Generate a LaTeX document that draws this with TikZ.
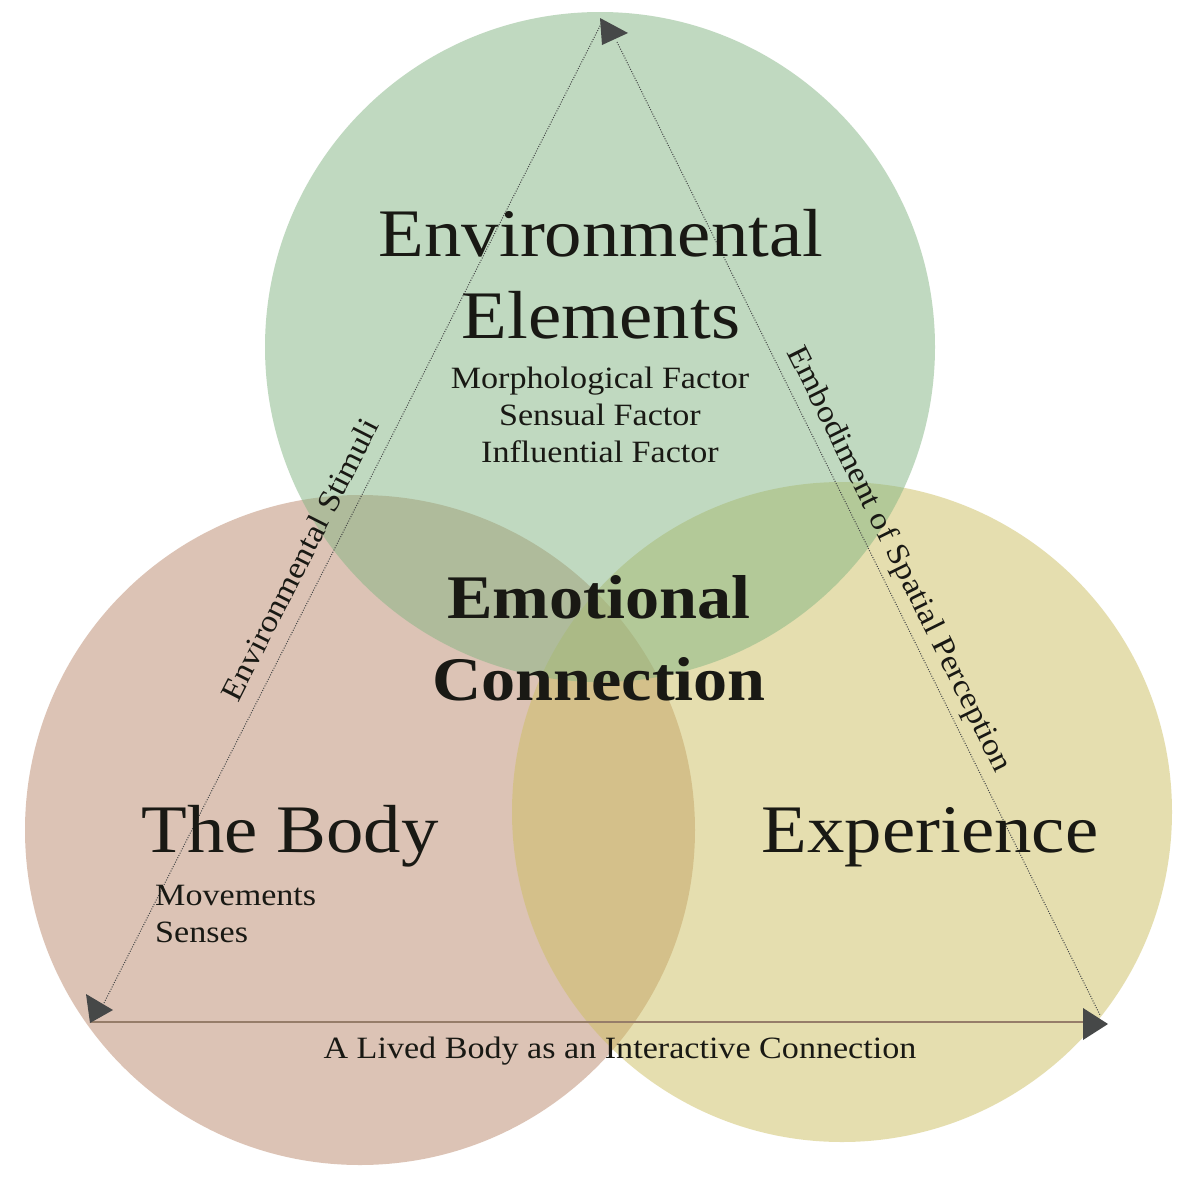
\documentclass[tikz,border=0pt]{standalone}
\usepackage{fontspec}
\setmainfont{Liberation Serif}[FakeStretch=1.1]
\definecolor{gfill}{RGB}{131,181,131}
\definecolor{rfill}{RGB}{187,137,109}
\definecolor{yfill}{RGB}{205,191,97}
\definecolor{txt}{RGB}{25,25,20}
\definecolor{tip}{RGB}{70,72,72}
\definecolor{hline}{RGB}{150,125,105}
\begin{document}
\begin{tikzpicture}[x=1pt,y=-1pt,
  venn/.style={circle, inner sep=0pt, minimum size=#1, fill opacity=0.5, text opacity=1},
  big/.style={text=txt, inner sep=0pt, anchor=base, font=\fontsize{68}{72}\selectfont},
  bold/.style={text=txt, inner sep=0pt, anchor=base, font=\fontsize{62}{66}\selectfont\bfseries},
  small/.style={text=txt, inner sep=0pt, anchor=base, font=\fontsize{31}{37}\selectfont},
  lbl/.style={text=txt, inner sep=0pt, font=\fontsize{31}{34}\selectfont},
  dotline/.style={draw=tip, line width=1pt, dash pattern=on 1pt off 1.5pt},
  tipshape/.style={fill=tip}]
\useasboundingbox (0,0) rectangle (1200,1189);
\fill[white] (0,0) rectangle (1200,1189);
% circles
\node[venn=670pt, fill=rfill] (R) at (360,830) {};
\node[venn=660pt, fill=yfill] (Y) at (842,812) {};
\node[venn=670pt, fill=gfill] (G) at (600,347) {};
% corner coordinates
\coordinate (T) at (602,22);
\coordinate (T2) at (617,42);
\coordinate (BL) at (104,1003);
\coordinate (BLh) at (90,1022);
\coordinate (BR) at (1100,1015);
\coordinate (BRh) at (1084,1022);
% connectors
\draw[dotline] (BL) -- node[pos=0.44, sloped, above=15pt, lbl] (es) {Environmental Stimuli} (T);
\draw[dotline] (T2) -- node[pos=0.542, sloped, above=7pt, lbl] (esp) {Embodiment of Spatial Perception} (BR);
\draw[draw=hline, line width=1.4pt] (BLh) -- node[below=14pt, xshift=33pt, lbl] (lived) {A Lived Body as an Interactive Connection} (BRh);
% arrowheads
\fill[tipshape] (600,18) -- (602,45) -- (628,33) -- cycle;
\fill[tipshape] (86,994) -- (90,1023) -- (113,1010) -- cycle;
\fill[tipshape] (1083,1008) -- (1083,1040) -- (1108,1024) -- cycle;
% texts
\node[big] (env1) at (601,256) {Environmental};
\node[big] (env2) at (601,338) {Elements};
\node[small] (fac1) at (600,388) {Morphological Factor};
\node[small] (fac2) at (600,425) {Sensual Factor};
\node[small] (fac3) at (600,462) {Influential Factor};
\node[bold] (emo1) at (599,618) {Emotional};
\node[bold] (emo2) at (599,700) {Connection};
\node[big] (body) at (290,852) {The Body};
\node[small, anchor=base west] (mov) at (155,905) {Movements};
\node[small, anchor=base west] (sen) at (155,942) {Senses};
\node[big] (exp) at (930,852) {Experience};
\end{tikzpicture}
\end{document}
